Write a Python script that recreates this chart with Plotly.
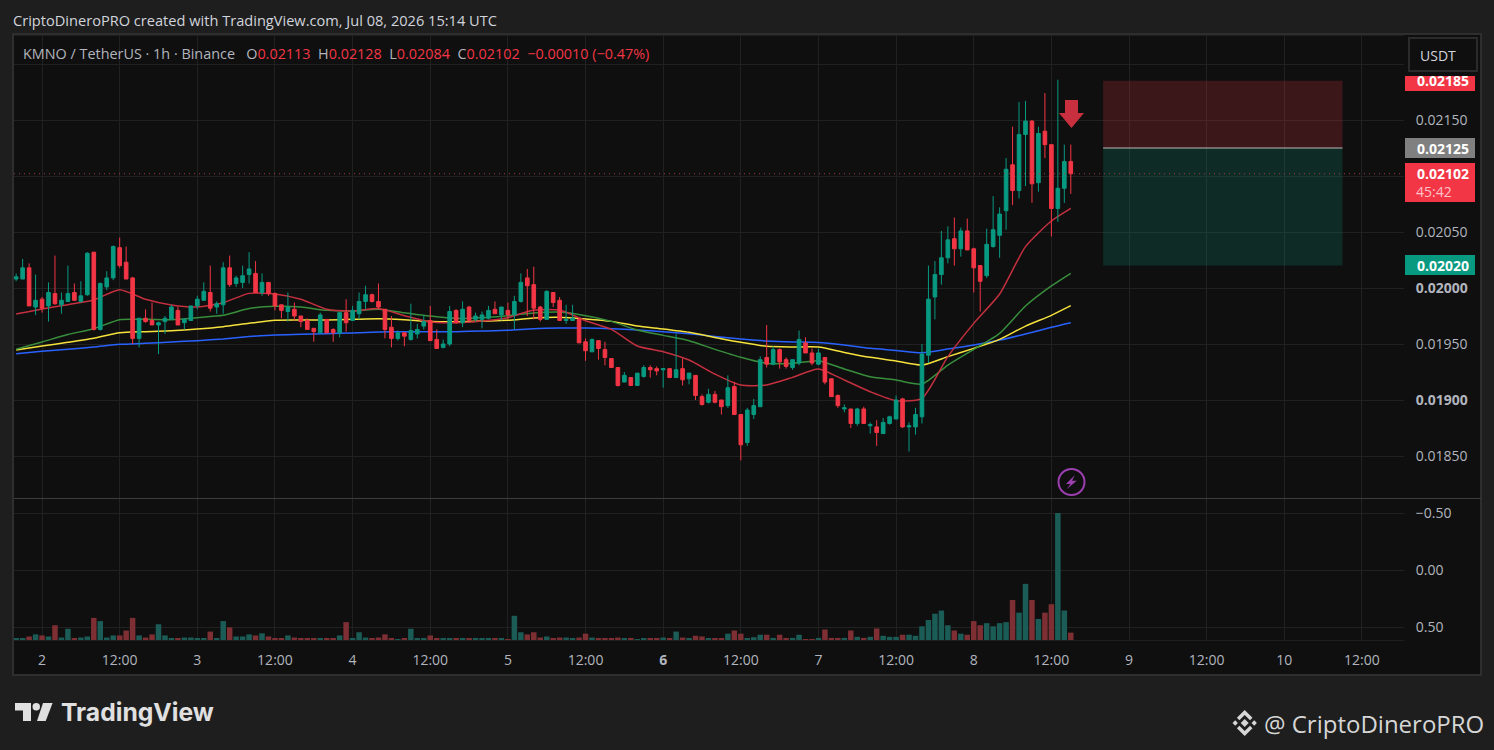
import numpy as np
import pandas as pd
import plotly.graph_objects as go

W, H = 1494, 750

# prices are written in ticks of 0.00001 USDT
opens = [2008,2008,2018,1983,1990,1984,1995,1985,1988,1996,1988,1994,2032,1963,2001,2009,2036,2023,2009,1955,
         1973,1971,1967,1970,1972,1980,1969,1971,1984,1989,1996,1983,1985,2018,2004,2005,2012,2013,1996,2005,
         1995,1985,1979,1981,1975,1971,1964,1960,1972,1963,1960,1978,1971,1977,1988,1994,1988,1981,1965,1955,
         1960,1954,1959,1966,1971,1954,1947,1950,1980,1969,1983,1972,1972,1973,1981,1976,1980,1976,1988,2009,
         2003,1983,1972,1996,1989,1971,1971,1972,1952,1943,1953,1945,1937,1929,1916,1920,1913,1921,1929,1928,
         1927,1928,1920,1928,1919,1922,1903,1898,1905,1900,1895,1912,1887,1862,1887,1894,1938,1932,1945,1936,
         1929,1933,1951,1942,1932,1938,1919,1904,1892,1892,1879,1892,1877,1876,1870,1879,1883,1901,1876,1876,
         1885,1940,1992,2012,2027,2044,2035,2051,2035,2020,2011,2037,2047,2069,2110,2087,2137,2149,2094,2140,
         2128,2071,2089,2113]
highs = [2013,2026,2022,2012,1992,2005,2029,1996,2020,2004,2006,2032,2032,2005,2015,2038,2045,2037,2010,1973,
         1981,1987,1970,1975,1985,1983,1973,1984,1993,2005,2020,1988,2023,2029,2011,2020,2032,2024,2013,2005,
         1996,1985,1996,1987,1975,1973,1964,1978,1972,1964,1978,1990,1984,1996,2002,1995,2004,1981,1975,1962,
         1960,1986,1968,1976,1984,1963,1954,1984,1981,1988,1984,1978,1979,1984,1988,1983,1987,1993,2013,2017,
         2019,1984,1998,1996,1992,1985,1985,1973,1955,1955,1953,1952,1937,1929,1925,1920,1924,1931,1931,1930,
         1928,1928,1959,1937,1924,1922,1905,1910,1908,1900,1922,1916,1887,1893,1901,1939,1967,1948,1946,1938,
         1936,1962,1956,1946,1946,1938,1919,1905,1896,1892,1893,1894,1880,1882,1884,1886,1904,1902,1880,1893,
         1950,2020,2024,2051,2055,2063,2054,2062,2036,2020,2053,2082,2072,2116,2144,2166,2167,2150,2144,2174,
         2128,2186,2128,2128]
lows = [2006,2008,1984,1976,1978,1970,1985,1977,1988,1989,1987,1993,1962,1962,1998,2007,2018,2008,1950,1947,
        1969,1967,1941,1959,1972,1967,1963,1971,1981,1989,1979,1977,1977,2001,2001,2000,2004,1996,1993,1993,
        1980,1973,1970,1971,1965,1963,1952,1960,1960,1952,1956,1961,1971,1972,1981,1987,1981,1955,1947,1953,
        1948,1953,1955,1963,1953,1946,1946,1948,1968,1965,1971,1970,1964,1972,1977,1971,1972,1963,1987,1975,
        1972,1970,1972,1983,1971,1968,1971,1951,1935,1943,1936,1931,1929,1912,1916,1913,1913,1920,1920,1922,
        1911,1920,1920,1913,1914,1900,1895,1897,1897,1887,1893,1887,1846,1859,1883,1894,1929,1931,1928,1928,
        1927,1931,1942,1931,1931,1914,1903,1893,1889,1875,1877,1879,1870,1859,1870,1878,1883,1875,1854,1869,
        1879,1933,1972,2003,2022,2020,2028,2034,1996,1979,2009,2036,2027,2052,2074,2080,2091,2076,2086,2116,
        2046,2059,2076,2084]
closes = [2010,2018,1984,1989,1982,1996,1986,1989,1995,1989,1993,2031,1963,2004,2009,2037,2020,2008,1955,1973,
          1970,1967,1969,1973,1983,1967,1972,1984,1990,1997,1982,1986,2018,2003,2009,2011,2017,1996,2005,1995,
          1984,1980,1983,1975,1970,1963,1961,1976,1960,1960,1978,1969,1980,1988,1994,1988,1983,1963,1955,1960,
          1957,1962,1963,1970,1953,1946,1950,1979,1969,1981,1971,1975,1976,1980,1977,1983,1976,1988,2005,2002,
          1982,1972,1997,1987,1971,1972,1973,1951,1944,1954,1946,1938,1929,1913,1922,1913,1924,1929,1927,1926,
          1928,1920,1927,1918,1924,1904,1896,1905,1898,1894,1911,1887,1860,1891,1895,1936,1932,1945,1934,1930,
          1936,1954,1942,1933,1942,1916,1903,1895,1893,1879,1892,1879,1878,1871,1880,1885,1900,1876,1877,1887,
          1941,1990,2012,2027,2043,2035,2051,2034,2018,2006,2039,2052,2066,2106,2087,2137,2149,2093,2138,2128,
          2071,2089,2113,2102]

# volume bars, arbitrary units
volumes = [4,4,10,16,13,10,42,7,32,4,7,10,63,54,7,13,13,27,63,13,7,16,45,13,4,4,7,7,4,4,24,4,54,36,10,10,16,13,19,10,
           4,4,13,7,4,4,4,4,4,4,13,51,4,22,7,4,7,16,4,2,4,32,4,4,13,4,4,4,4,4,4,4,4,4,4,4,2,69,22,16,
           22,7,10,4,7,7,4,7,18,7,4,4,4,7,4,4,2,4,4,4,7,4,24,7,4,12,10,4,4,4,18,27,18,5,8,15,15,6,15,6,
           6,15,2,2,6,30,6,6,6,27,9,6,9,33,12,9,9,15,15,12,39,57,75,84,42,27,18,15,54,42,48,39,48,51,114,78,
           160,114,60,78,102,362,84,21]

# moving averages read every 4 candles, in ticks
ma_steps = list(range(0, 161, 4)) + [163]
ma_red = [1976.8,1981.3,1985.1,1989.3,1998.5,1989.9,1984.8,1983,1986.9,1995.2,1994.7,1989.9,1981,1979.5,1981.6,
          1975.3,1969.6,1969,1970.5,1973.5,1980.3,1980.3,1970.8,1963.1,1948.2,1943.1,1935.7,1923.2,1913.4,1913.4,1920.2,
          1927.7,1917.8,1907.4,1899.4,1901.5,1938.7,1968.4,1994.6,2036.9,2059.8,2071.1]
ma_green = [1945.3,1951.8,1958.4,1963.7,1971.7,1972,1971.7,1973.5,1975.6,1981.6,1983.7,1983,1980.1,1979.5,1981,
            1977.9,1975,1972.9,1973.5,1975.3,1977.7,1978.5,1975.3,1970.2,1962.5,1957.7,1952.9,1945.2,1938.1,1932.7,1932.7,
            1935.1,1927.7,1920.8,1917.8,1914.3,1931.2,1945.2,1959.5,1983.9,2001.8,2013.1]
ma_yellow = [1944.7,1948.2,1951.5,1955.1,1960.1,1961,1961.9,1963.4,1965.5,1968.5,1971.2,1971.4,1971.4,1972,1972.6,
             1971.7,1970.2,1969.9,1970.5,1971.1,1973.2,1973.8,1972.3,1970.2,1966,1963.4,1960.4,1955.9,1951.5,1947.9,1947.3,
             1947.3,1942.5,1938.1,1934.8,1931.2,1938.7,1946.1,1954.1,1966,1975.6,1984.2]
ma_blue = [1941.4,1943.5,1945.3,1947.3,1949.7,1950.6,1951.8,1953,1954.5,1956.6,1958.1,1958.6,1959.2,1959.8,1960.7,
           1961,1961,1961,1961.6,1962.2,1963.7,1964.3,1964.3,1963.7,1962.5,1961,1959.2,1956.8,1954.4,1952.7,1951.8,
           1951.4,1949.1,1946.1,1944.3,1942.2,1945.5,1949.1,1953.5,1958.9,1964.9,1969]

price_ticks = [0.0185, 0.019, 0.0195, 0.02, 0.0205, 0.021, 0.0215, 0.022]
price_labels = ["0.01850", "<b>0.01900</b>", "0.01950", "<b>0.02000</b>", "0.02050", "", "0.02150", ""]
vol_ticks = [-0.5, 0, 0.5]
vol_labels = ["\u22120.50", "0.00", "0.50"]
time_ticks = ["2026-07-02 00:00", "2026-07-02 12:00", "2026-07-03 00:00", "2026-07-03 12:00", "2026-07-04 00:00",
              "2026-07-04 12:00", "2026-07-05 00:00", "2026-07-05 12:00", "2026-07-06 00:00", "2026-07-06 12:00",
              "2026-07-07 00:00", "2026-07-07 12:00", "2026-07-08 00:00", "2026-07-08 12:00", "2026-07-09 00:00",
              "2026-07-09 12:00", "2026-07-10 00:00", "2026-07-10 12:00"]
time_labels = ["2", "12:00", "3", "12:00", "4", "12:00", "5", "12:00", "<b>6</b>", "12:00", "7", "12:00", "8", "12:00",
               "9", "12:00", "10", "12:00"]

stop_price = 0.02185
entry_price = 0.02125
target_price = 0.02020
last_price = 0.02102

UP = "#089981"
DOWN = "#F23645"
FONT = "Open Sans"
GRID = "#212121"

tick = 1e-5
times = pd.date_range("2026-07-01 20:00", periods=len(opens), freq="h")
ma_times = times[ma_steps]
vol_colors = ["#1b5c56" if c >= o else "#7e2f33" for o, c in zip(opens, closes)]


def px(x):
    return x / W


def py(y):
    return 1 - y / H


def poly(points, fill, line=None):
    path = "M " + " L ".join(f"{px(x):.5f} {py(y):.5f}" for x, y in points) + " Z"
    return dict(type="path", xref="paper", yref="paper", path=path, fillcolor=fill,
                line=dict(width=0 if line is None else 1, color=line or fill))


def box(x0, y0, x1, y1, fill, line_color=None, line_width=0, layer="above"):
    return dict(type="rect", xref="paper", yref="paper", x0=px(x0), x1=px(x1), y0=py(y0), y1=py(y1),
                fillcolor=fill, line=dict(width=line_width, color=line_color or fill), layer=layer)


def text(x, y, s, size=14, color="#b2b5be", anchor="left", family=FONT):
    return dict(xref="paper", yref="paper", x=px(x), y=py(y), text=s, showarrow=False, xanchor=anchor, yanchor="middle",
                font=dict(family=family, size=size, color=color), borderpad=0, borderwidth=0)


def price_note(price, s, color="white"):
    return dict(xref="paper", yref="y", x=px(1415), y=price, text=s, showarrow=False, xanchor="left", yanchor="middle",
                font=dict(family=FONT, size=14, color=color))


fig = go.Figure()

for name, vals, col in [("blue", ma_blue, "#2962ff"), ("yellow", ma_yellow, "#f5e23c"),
                        ("green", ma_green, "#388e3c"), ("red", ma_red, "#c4303f")]:
    fig.add_trace(go.Scatter(x=ma_times, y=np.array(vals) * tick, mode="lines", name=name, xaxis="x2", yaxis="y",
                             line=dict(color=col, width=1.5, shape="spline", smoothing=0.6), hoverinfo="skip",
                             showlegend=False))

fig.add_trace(go.Candlestick(x=times, open=np.array(opens) * tick, high=np.array(highs) * tick, low=np.array(lows) * tick,
                             close=np.array(closes) * tick, xaxis="x2", yaxis="y4", whiskerwidth=0,
                             increasing=dict(line=dict(color=UP, width=1), fillcolor=UP),
                             decreasing=dict(line=dict(color=DOWN, width=1), fillcolor=DOWN),
                             hoverinfo="skip", showlegend=False))

fig.add_trace(go.Scatter(x=[], y=[], xaxis="x", yaxis="y2", showlegend=False))
fig.add_trace(go.Bar(x=times, y=volumes, xaxis="x", yaxis="y3", marker=dict(color=vol_colors, line=dict(width=0)),
                     hoverinfo="skip", showlegend=False))

x_range = ["2026-07-01 19:40", "2026-07-10 18:30"]
price_range = [0.018125, 0.02225]
x_common = dict(domain=[px(14), px(1404)], range=x_range, type="date", tickvals=time_ticks, ticktext=time_labels,
                showgrid=True, gridcolor=GRID, gridwidth=1, zeroline=False, showline=False, fixedrange=True,
                rangeslider=dict(visible=False))

fig.update_layout(
    width=W, height=H, autosize=False,
    paper_bgcolor="#1e1e1e", plot_bgcolor="#0f0f0f",
    margin=dict(l=0, r=0, t=0, b=0),
    showlegend=False, bargap=0.15, boxgap=0.2, dragmode=False,
    font=dict(family=FONT, size=14, color="#b2b5be"),
    xaxis=dict(**x_common, anchor="y2", ticks="outside", ticklen=7, tickcolor="rgba(0,0,0,0)",
               tickfont=dict(family=FONT, size=14, color="#b2b5be")),
    xaxis2=dict(**x_common, anchor="y", matches="x", showticklabels=False),
    yaxis=dict(domain=[py(498), py(36)], range=price_range, side="right", anchor="x2", tickvals=price_ticks,
               ticktext=price_labels, showgrid=True, gridcolor=GRID, zeroline=False, ticks="outside", ticklen=8,
               tickcolor="rgba(0,0,0,0)", tickfont=dict(family=FONT, size=14, color="#b2b5be"), fixedrange=True),
    yaxis2=dict(domain=[py(640), py(499)], range=[0.614, -0.623], side="right", anchor="x", tickvals=vol_ticks,
                ticktext=vol_labels, showgrid=True, gridcolor=GRID, zeroline=False, ticks="outside", ticklen=8,
                tickcolor="rgba(0,0,0,0)", tickfont=dict(family=FONT, size=14, color="#b2b5be"), fixedrange=True),
    yaxis3=dict(domain=[py(640), py(499)], range=[0, 402], overlaying="y2", side="right", anchor="x", showgrid=False,
                showticklabels=False, zeroline=False, fixedrange=True),
    yaxis4=dict(domain=[py(498), py(36)], range=price_range, overlaying="y", side="right", anchor="x2", showgrid=False,
                showticklabels=False, zeroline=False, fixedrange=True),
)

# position tool box starts after the last candle
box_start, box_end = "2026-07-08 20:00", "2026-07-10 09:00"
shapes = [
    box(13, 34, 1481, 675, "rgba(0,0,0,0)", "#2e2e2e", 2, layer="below"),
    box(1404, 35, 1480, 674, "#0f0f0f", layer="below"),
    box(14, 641, 1404, 674, "#0f0f0f", layer="below"),
    dict(type="line", xref="paper", yref="paper", x0=px(14), x1=px(1481), y0=py(498.5), y1=py(498.5),
         line=dict(color="#3d3d3d", width=1)),
    dict(type="rect", xref="x2", yref="y", x0=box_start, x1=box_end, y0=entry_price, y1=stop_price,
         fillcolor="rgba(242,54,69,0.2)", line=dict(width=0)),
    dict(type="rect", xref="x2", yref="y", x0=box_start, x1=box_end, y0=target_price, y1=entry_price,
         fillcolor="rgba(8,153,129,0.2)", line=dict(width=0)),
    dict(type="line", xref="x2", yref="y", x0=box_start, x1=box_end, y0=entry_price, y1=entry_price,
         line=dict(color="#b8b8b8", width=1)),
    dict(type="line", xref="paper", yref="y", x0=px(14), x1=px(1404), y0=last_price, y1=last_price,
         line=dict(color="#a33a45", width=1, dash="1px,4px")),
    # price labels
    box(1405, 76, 1475, 91, DOWN),
    box(1405, 138, 1475, 158, "#808080"),
    box(1405, 163, 1475, 202, DOWN),
    box(1405, 255, 1475, 275, UP),
    # currency button
    dict(type="rect", xref="paper", yref="paper", x0=px(1409), x1=px(1477), y0=py(71), y1=py(38),
         fillcolor="#0f0f0f", line=dict(color="#2b2b2b", width=2)),
    # sell arrow
    poly([(1065, 100), (1078, 100), (1078, 113), (1084, 113), (1071.5, 128), (1059, 113), (1065, 113)], "#c9303f"),
    # event marker
    dict(type="circle", xref="paper", yref="paper", x0=px(1058.5), x1=px(1084.5), y0=py(495), y1=py(469),
         fillcolor="rgba(0,0,0,0)", line=dict(color="#9c3fb0", width=2)),
    poly([(1075, 475), (1066, 484), (1070.5, 484), (1066.7, 489.3), (1076.7, 480.7), (1072, 480.7)], "#9c3fb0"),
    # TradingView logo
    poly([(15, 703), (31, 703), (31, 721), (23, 721), (23, 710.5), (15, 710.5)], "#e0e0e0"),
    dict(type="circle", xref="paper", yref="paper", x0=px(32.5), x1=px(40), y0=py(710.5), y1=py(703),
         fillcolor="#e0e0e0", line=dict(width=0)),
    poly([(43, 703), (52.6, 703), (45.7, 721), (37, 721)], "#e0e0e0"),
    # Binance logo
    poly([(1244.7, 719), (1248.7, 723), (1244.7, 727), (1240.7, 723)], "#d6d6d6"),
    poly([(1235.2, 720.3), (1237.9, 723), (1235.2, 725.7), (1232.5, 723)], "#d6d6d6"),
    poly([(1254.2, 720.3), (1256.9, 723), (1254.2, 725.7), (1251.5, 723)], "#d6d6d6"),
    poly([(1244.7, 710), (1252.5, 717.8), (1250, 720.3), (1244.7, 715), (1239.4, 720.3), (1236.9, 717.8)], "#d6d6d6"),
    poly([(1244.7, 736), (1252.5, 728.2), (1250, 725.7), (1244.7, 731), (1239.4, 725.7), (1236.9, 728.2)], "#d6d6d6"),
]
fig.update_layout(shapes=shapes)

red = "#f23645"
grey = "#b2b5be"


def legend_pair(key, val):
    return f'<span style="color:{grey}">{key}</span><span style="color:{red}">{val}</span>'


legend = (f'<span style="color:{grey}">KMNO / TetherUS \u00b7 1h \u00b7 Binance</span>   '
          + legend_pair("O", "0.02113") + "  " + legend_pair("H", "0.02128") + "  "
          + legend_pair("L", "0.02084") + "  " + legend_pair("C", "0.02102") + "  "
          + f'<span style="color:{red}">\u22120.00010 (\u22120.47%)</span>')

annotations = [
    text(13, 20, "CriptoDineroPRO created with TradingView.com, Jul 08, 2026 15:14 UTC", size=14.6, color="#d1d4dc"),
    text(23, 54, legend, size=14.4),
    text(1420, 55, "USDT", size=14, color="#d1d4dc"),
    price_note(stop_price, "<b>0.02185</b>"),
    price_note(entry_price, "<b>0.02125</b>"),
    price_note(last_price, "<b>0.02102</b>"),
    text(1416, 191.5, "45:42", size=14, color="#ffc2c8"),
    price_note(target_price, "<b>0.02020</b>"),
    text(61, 712, "<b>TradingView</b>", size=24.7, color="#e0e0e0", family="Inter"),
    text(1264, 723, "@ CriptoDineroPRO", size=24, color="#d6d6d6", family="Open Sans"),
]
fig.update_layout(annotations=annotations)

# the browser's default body margin would push the figure off the 1494x750 page
fig.write_html("out.html", config={"displayModeBar": False}, post_script="document.body.style.margin='0';")
